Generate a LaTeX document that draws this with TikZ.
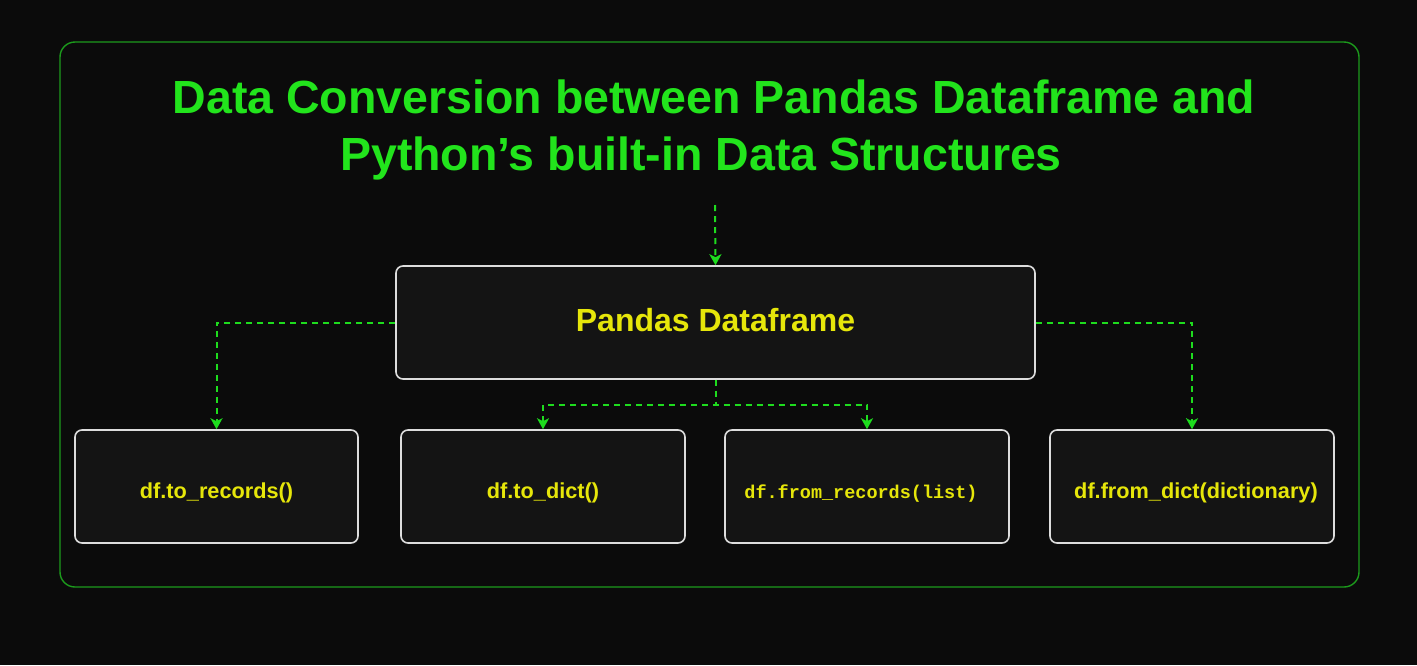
\documentclass[tikz,border=0pt]{standalone}
\usepackage{fontspec}
\setmainfont{Liberation Sans}
\newfontfamily\monof{Liberation Mono}
\usetikzlibrary{arrows.meta}
\definecolor{bgc}{HTML}{0B0B0B}
\definecolor{framec}{HTML}{1C9A1C}
\definecolor{titlec}{HTML}{22E41C}
\definecolor{boxfill}{HTML}{141414}
\definecolor{boxline}{HTML}{DDDDDD}
\definecolor{labc}{HTML}{E6E60A}
\definecolor{arrc}{HTML}{1EDC1E}
\tikzset{
  x=1pt, y=-1pt,
  boxstyle/.style={draw=boxline, fill=boxfill, line width=1.6pt, rounded corners=7pt, inner sep=0pt},
  conn/.style={draw=arrc, line width=2pt, dash pattern=on 6pt off 5pt, -{Stealth[length=11pt,width=12pt,inset=3pt]}},
  labtext/.style={text=labc, font=\bfseries\fontsize{21.7}{26}\selectfont}
}
\begin{document}
\begin{tikzpicture}
\fill[bgc] (0,0) rectangle (1417,665);
\useasboundingbox (0,0) rectangle (1417,665);
\draw[framec, line width=1.4pt, rounded corners=15pt] (60,42) rectangle (1359,587);
\node[anchor=base, text=titlec, font=\bfseries\fontsize{46.5}{54}\selectfont] (t1) at (714,113) {Data Conversion between Pandas Dataframe and};
\node[anchor=base, text=titlec, font=\bfseries\fontsize{46.5}{54}\selectfont] (t2) at (701,170) {Python’s built-in Data Structures};
\node[boxstyle, minimum width=639pt, minimum height=113pt] (pd) at (715.5,322.5) {};
\node[anchor=base, text=labc, font=\bfseries\fontsize{32}{38}\selectfont] (pdl) at (715.5,331) {Pandas Dataframe};
\node[boxstyle, minimum width=283pt, minimum height=113pt] (b1) at (216.5,486.5) {};
\node[boxstyle, minimum width=284pt, minimum height=113pt] (b2) at (543,486.5) {};
\node[boxstyle, minimum width=284pt, minimum height=113pt] (b3) at (867,486.5) {};
\node[boxstyle, minimum width=284pt, minimum height=113pt] (b4) at (1192,486.5) {};
\node[anchor=base, labtext] (l1) at (216.5,498) {df.to\_records()};
\node[anchor=base, labtext] (l2) at (543,498) {df.to\_dict()};
\node[anchor=base, text=labc, font=\monof\bfseries\fontsize{18.5}{22}\selectfont] (l3) at (861,498) {df.from\_records(list)};
\node[anchor=base, labtext] (l4) at (1196,498) {df.from\_dict(dictionary)};
\coordinate (top) at (715,205);
\draw[conn] (top) -- (pd.north);
\draw[conn] (pd.west) -| (b1.north);
\draw[conn] (pd.east) -| (b4.north);
\draw[conn] (pd.south) -- ++(0,25) -| (b2.north);
\draw[conn] (pd.south) -- ++(0,25) -| (b3.north);
\end{tikzpicture}
\end{document}
